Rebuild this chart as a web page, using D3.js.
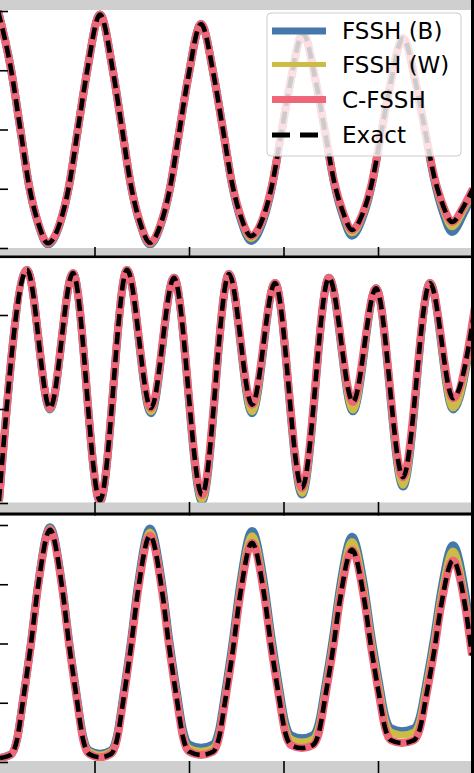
<!DOCTYPE html>
<html><head><meta charset="utf-8">
<script src="https://cdn.jsdelivr.net/npm/d3@7"></script>
<style>html,body{margin:0;padding:0;background:#fff;}svg{display:block;}</style>
</head><body>
<svg id="chart" width="474" height="773"></svg>
<script>
// ---------------- DATA ----------------
const seriesNames = ["FSSH (B)", "FSSH (W)", "C-FSSH", "Exact"];
const xTickValues = [1, 2, 3, 4];
const yTicksTop = [0, 0.25, 0.5, 0.75, 1];
const yTicksMid = [0, 0.2, 0.4];
const yTicksBot = [0, 0.25, 0.5, 0.75, 1];

// Panel 1
const tTop = [-0.021,0.116,0.212,0.307,0.402,0.508,0.635,0.730,0.825,0.921,1.058,1.196,1.291,1.386,1.481,1.587,1.704,1.799,1.894,1.989,2.127,2.265,2.360,2.455,2.550,2.656,2.783,2.878,2.974,3.069,3.206,3.344,3.439,3.534,3.630,3.725,3.841,3.937,4.032,4.127,4.265,4.402,4.497,4.593,4.688,4.783,4.910,5.005];
const exactTop = [1.0,.755,.51,.265,.108,.02,.107,.261,.503,.744,.985,.744,.504,.263,.109,.022,.105,.253,.484,.714,.945,.721,.498,.274,.131,.05,.127,.264,.478,.691,.905,.698,.491,.283,.151,.076,.149,.278,.481,.683,.885,.691,.498,.304,.18,.11,.178,.25];
const cfsshTop = [1.0,.755,.51,.265,.108,.02,.107,.261,.503,.744,.985,.744,.504,.263,.109,.022,.105,.253,.484,.714,.945,.721,.498,.274,.131,.05,.127,.264,.478,.691,.905,.698,.491,.283,.151,.076,.149,.278,.481,.683,.885,.691,.498,.304,.18,.11,.178,.25];
const fsshBTop = [1.0,.755,.51,.263,.104,.015,.103,.259,.503,.744,.985,.744,.504,.261,.104,.015,.10,.251,.484,.714,.945,.721,.498,.268,.117,.03,.113,.258,.478,.691,.905,.698,.49,.276,.134,.052,.132,.271,.48,.683,.885,.69,.495,.291,.15,.068,.148,.23];
const fsshWTop = [1.0,.755,.51,.264,.106,.018,.105,.26,.503,.744,.985,.744,.504,.262,.106,.018,.102,.252,.484,.714,.945,.721,.498,.271,.124,.04,.12,.261,.478,.691,.905,.698,.49,.279,.142,.064,.14,.274,.48,.683,.885,.69,.497,.297,.165,.09,.163,.24];

// Panel 2
const tMid = [-0.011,0.286,0.529,0.772,1.058,1.344,1.598,1.841,2.138,2.423,2.667,2.910,3.196,3.481,3.735,3.979,4.265,4.550,4.794,5.058];
const exactMid = [.004,.496,.202,.489,.006,.496,.202,.479,.017,.487,.209,.468,.032,.479,.215,.457,.055,.468,.223,.46];
const cfsshMid = [.004,.496,.202,.489,.006,.496,.202,.479,.017,.487,.209,.468,.032,.479,.215,.457,.055,.468,.223,.46];
const fsshBMid = [.004,.496,.199,.489,.003,.496,.191,.479,.004,.487,.191,.468,.018,.479,.195,.457,.035,.468,.199,.46];
const fsshWMid = [.004,.496,.2,.489,.004,.496,.194,.479,.007,.487,.194,.468,.021,.479,.198,.457,.038,.468,.202,.46];

// Panel 3
const tBot = [0,.116,.180,.243,.328,.402,.529,.656,.730,.815,.878,.942,1.058,1.175,1.238,1.302,1.386,1.460,1.587,1.714,1.788,1.873,1.937,2.000,2.127,2.254,2.317,2.381,2.466,2.540,2.667,2.794,2.868,2.952,3.016,3.079,3.196,3.312,3.376,3.439,3.524,3.598,3.725,3.852,3.926,4.011,4.074,4.138,4.254,4.381,4.444,4.508,4.593,4.667,4.794,4.921,4.995];
const exactBot = [.017,.031,.094,.258,.499,.739,.98,.74,.50,.26,.097,.034,.02,.034,.095,.254,.488,.721,.955,.724,.493,.261,.104,.044,.03,.043,.102,.254,.478,.701,.925,.709,.492,.276,.128,.072,.059,.072,.126,.268,.477,.686,.895,.691,.488,.284,.145,.092,.08,.092,.142,.273,.465,.658,.85,.66,.45];
const cfsshBot = [.017,.031,.094,.258,.499,.739,.98,.74,.50,.26,.097,.034,.02,.034,.095,.254,.488,.721,.955,.724,.493,.261,.104,.044,.03,.043,.102,.254,.478,.701,.925,.709,.492,.276,.128,.072,.059,.072,.126,.268,.477,.686,.895,.691,.488,.284,.145,.092,.08,.092,.142,.273,.465,.658,.85,.66,.45];
const fsshWBot = [.017,.032,.094,.259,.501,.743,.985,.746,.508,.269,.106,.044,.03,.044,.105,.265,.50,.735,.97,.739,.508,.276,.119,.059,.045,.059,.118,.273,.50,.728,.955,.737,.52,.302,.154,.097,.084,.097,.152,.296,.507,.719,.93,.726,.522,.318,.179,.126,.114,.126,.176,.308,.502,.696,.89,.69,.48];
const fsshBBot = [.017,.032,.095,.26,.504,.747,.99,.751,.513,.274,.111,.049,.035,.049,.111,.273,.51,.748,.985,.754,.523,.291,.134,.074,.06,.074,.133,.289,.518,.746,.975,.756,.538,.319,.17,.113,.10,.113,.168,.313,.525,.738,.95,.745,.54,.335,.196,.142,.13,.142,.193,.326,.523,.719,.915,.72,.51];

// ---------------- DRAWING ----------------
const W = 474, H = 773;
const colors = {"FSSH (B)": "#4477AA", "FSSH (W)": "#CCBB44", "C-FSSH": "#EE6677", "Exact": "#000000"};
const svg = d3.select("#chart");
const gray = "#cfcfcf";
const plotRight = 471;

const x = d3.scaleLinear().domain([0, 5]).range([0, 472.5]);

const panels = [
  {top: 10, bottom: 248, yDomain: [0, 1], yRange: [248, 11], ticks: yTicksTop,
   t: tTop, series: [fsshBTop, fsshWTop, cfsshTop, exactTop]},
  {top: 258, bottom: 502.5, yDomain: [0, 0.4], yRange: [503, 315], ticks: yTicksMid,
   t: tMid, series: [fsshBMid, fsshWMid, cfsshMid, exactMid]},
  {top: 515.5, bottom: 761, yDomain: [0, 1], yRange: [762, 525], ticks: yTicksBot,
   t: tBot, series: [fsshBBot, fsshWBot, cfsshBot, exactBot]}
];

svg.append("rect").attr("x", 0).attr("y", 0).attr("width", W).attr("height", H).attr("fill", gray);
const defs = svg.append("defs");

panels.forEach((p, i) => {
  svg.append("rect").attr("x", 0).attr("y", p.top).attr("width", plotRight).attr("height", p.bottom - p.top).attr("fill", "#fff");
  defs.append("clipPath").attr("id", "clip" + i)
    .append("rect").attr("x", 0).attr("y", p.top).attr("width", plotRight).attr("height", p.bottom - p.top);

  const y = d3.scaleLinear().domain(p.yDomain).range(p.yRange);
  const line = d3.line().x((d, k) => x(p.t[k])).y(d => y(d)).curve(d3.curveMonotoneX);
  const g = svg.append("g").attr("clip-path", `url(#clip${i})`);

  const styles = [
    {w: 8, dash: null}, {w: 7, dash: null}, {w: 8, dash: null}, {w: 4.6, dash: "12,6"}
  ];
  p.series.forEach((vals, s) => {
    const path = g.append("path").datum(vals)
      .attr("d", line)
      .attr("fill", "none")
      .attr("stroke", colors[seriesNames[s]])
      .attr("stroke-width", styles[s].w)
      .attr("stroke-linejoin", "round");
    if (styles[s].dash) path.attr("stroke-dasharray", styles[s].dash);
  });

  const ax = svg.append("g")
    .call(d3.axisRight(y).tickValues(p.ticks).tickSize(8).tickFormat(""));
  ax.select(".domain").remove();
  ax.selectAll(".tick line").attr("stroke", "#000").attr("stroke-width", 1.6);
});

[[255.5, 2.6], [512.5, 3]].forEach(([yy, h]) => {
  svg.append("rect").attr("x", 0).attr("y", yy).attr("width", W).attr("height", h).attr("fill", "#000");
});

[[258, 11], [515.5, 13.5], [773, 12]].forEach(([yy, size]) => {
  const ax = svg.append("g").attr("transform", `translate(0,${yy})`)
    .call(d3.axisTop(x).tickValues(xTickValues).tickSize(size).tickFormat(""));
  ax.select(".domain").remove();
  ax.selectAll(".tick line").attr("stroke", "#000").attr("stroke-width", 1.6);
});

svg.append("rect").attr("x", plotRight).attr("y", 0).attr("width", W - plotRight).attr("height", H).attr("fill", "#000");

// legend
const lg = svg.append("g");
lg.append("rect").attr("x", 267).attr("y", 13).attr("width", 194).attr("height", 143)
  .attr("rx", 4).attr("fill", "#fff").attr("fill-opacity", 0.8)
  .attr("stroke", "#cccccc").attr("stroke-width", 1);
const rowY = [31, 64.5, 99.5, 135];
const legW = [7, 5, 7, 5];
seriesNames.forEach((name, i) => {
  const l = lg.append("line").attr("x1", 272).attr("x2", 326).attr("y1", rowY[i]).attr("y2", rowY[i])
    .attr("stroke", colors[name]).attr("stroke-width", legW[i]);
  if (name === "Exact") l.attr("stroke-dasharray", "18,10");
  lg.append("text").attr("x", 342).attr("y", rowY[i] + 8.4)
    .attr("font-family", "DejaVu Sans, sans-serif").attr("font-size", 23)
    .attr("fill", "#000").text(name);
});
</script>
</body></html>
